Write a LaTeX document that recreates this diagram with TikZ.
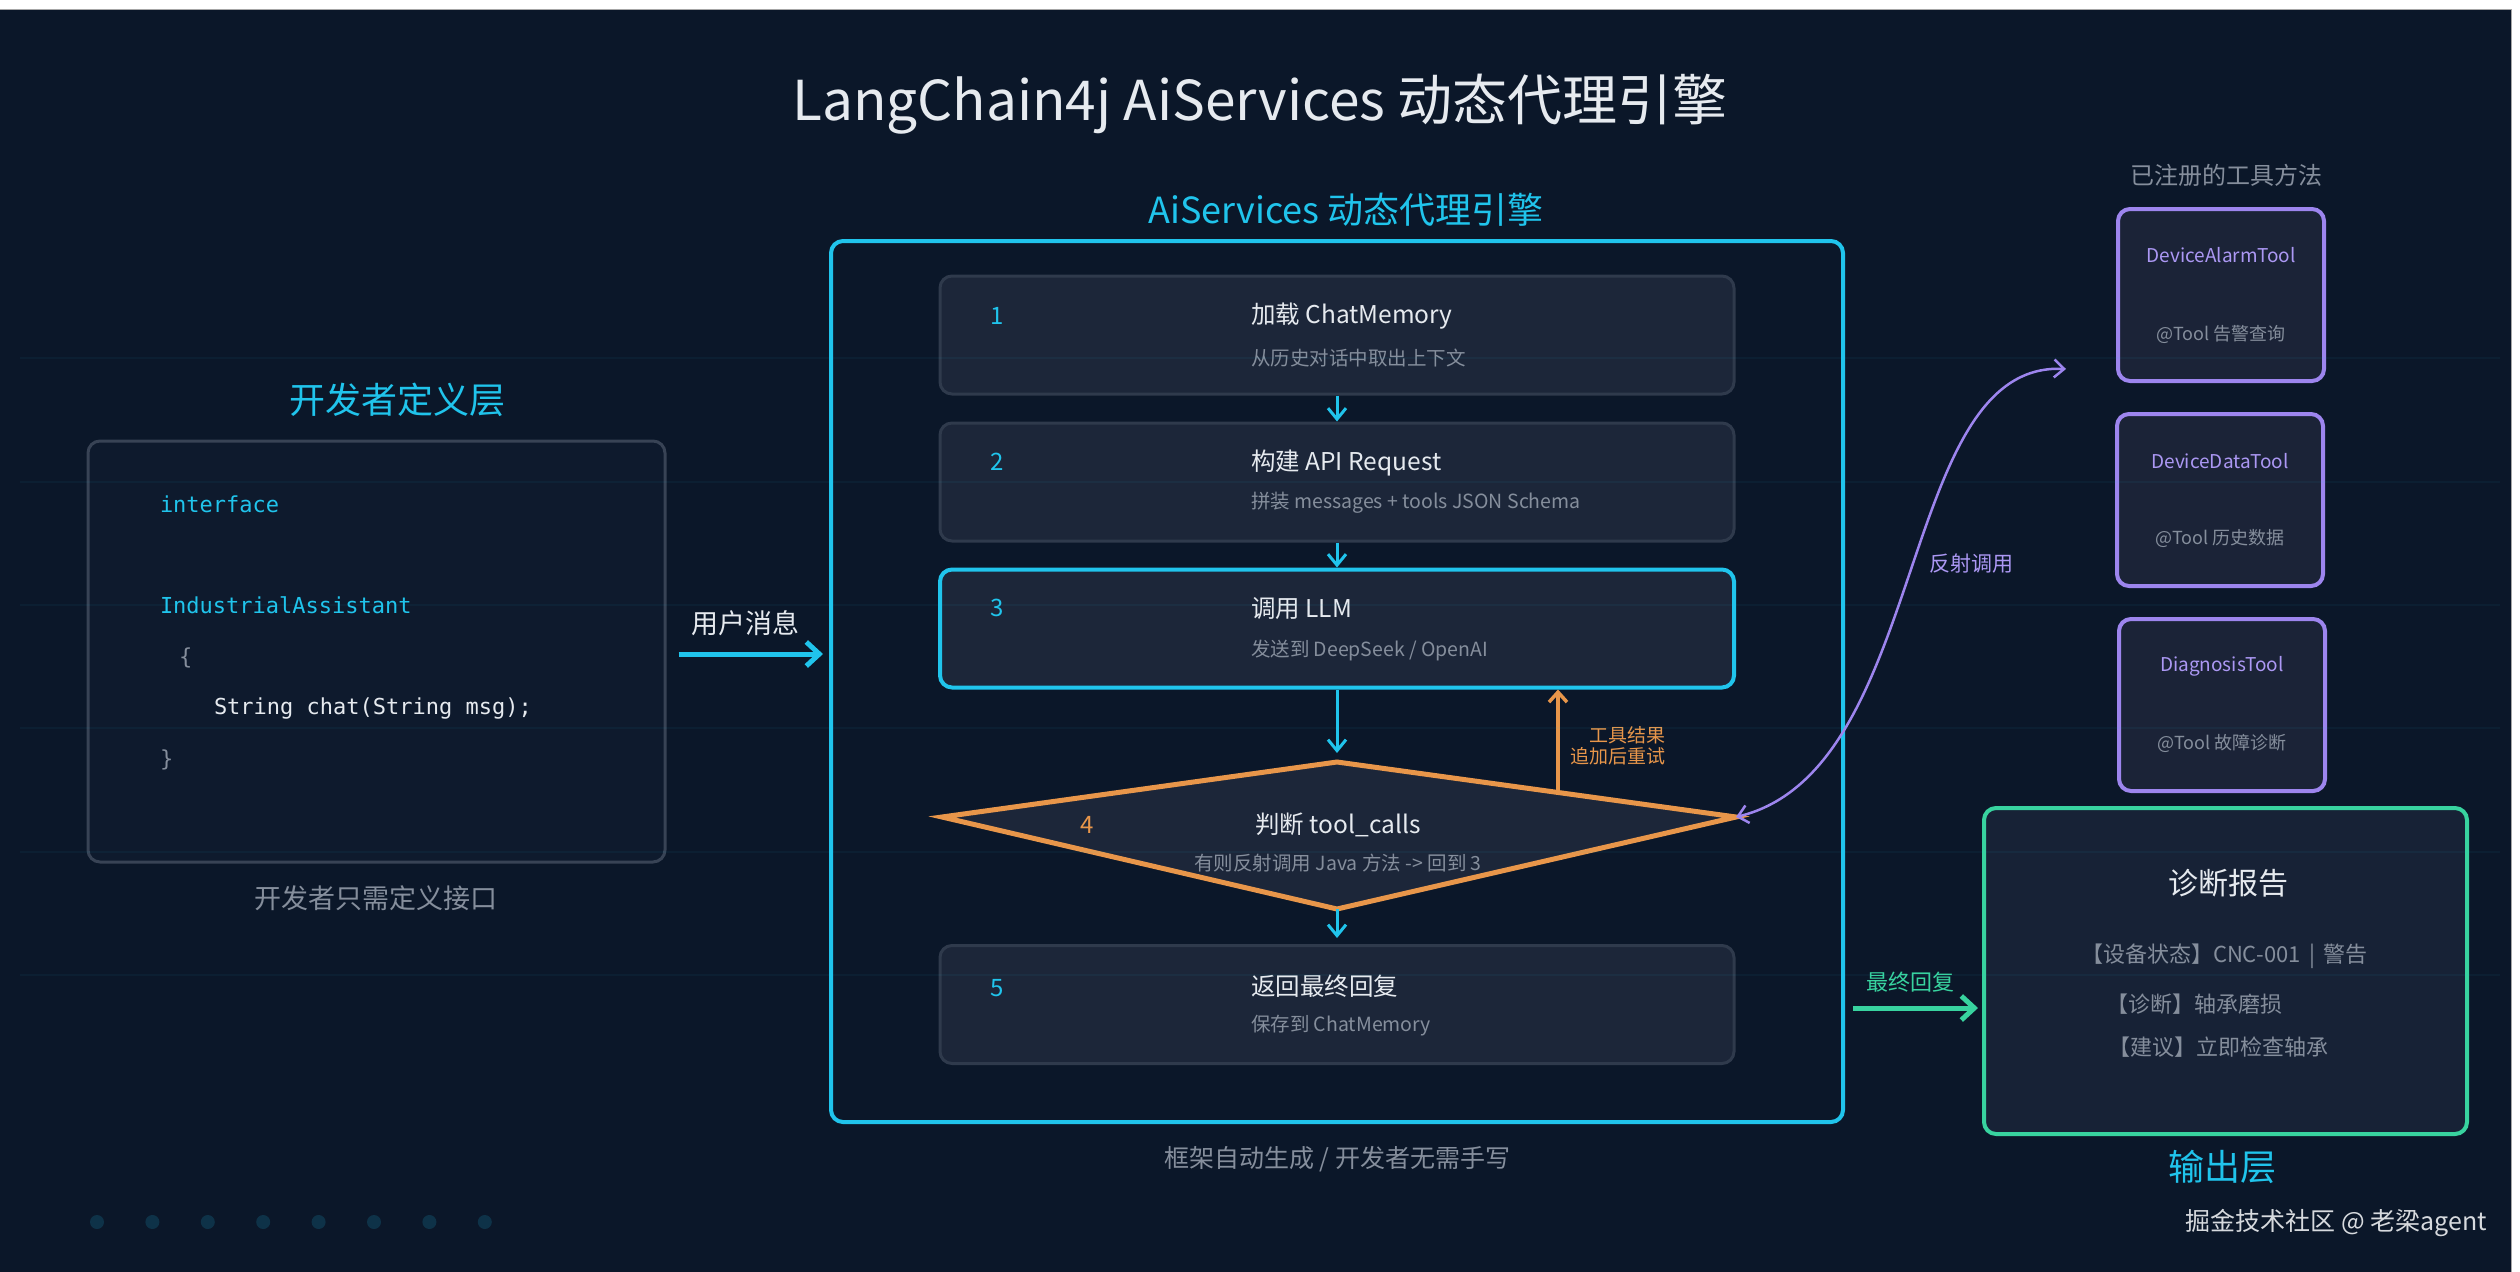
\documentclass[tikz,border=0pt]{standalone}
\usepackage{fontspec}
\setmainfont{Noto Sans CJK SC}
\newfontfamily\codefont{DejaVu Sans Mono}
\usetikzlibrary{arrows.meta}
\definecolor{bg}{HTML}{0B1729}
\definecolor{boxfill}{HTML}{1C2639}
\definecolor{boxline}{HTML}{2F3A4C}
\definecolor{cyanc}{HTML}{20C4EC}
\definecolor{orangec}{HTML}{E8964A}
\definecolor{purplec}{HTML}{9D85EE}
\definecolor{purplet}{HTML}{AC98F4}
\definecolor{greenc}{HTML}{38D39F}
\definecolor{greyt}{HTML}{858E9C}
\definecolor{whitet}{HTML}{E6EAEF}
\definecolor{codeline}{HTML}{384355}
\definecolor{codefill}{HTML}{0E1A2D}
\definecolor{toolfill}{HTML}{1B2337}
\definecolor{outfill}{HTML}{172236}
\newcommand\fsz[1]{\fontsize{#1pt}{#1pt}\selectfont}
\begin{document}
\begin{tikzpicture}[x=1pt,y=-1pt,
  txt/.style={inner sep=0pt, outer sep=0pt},
  stepbox/.style={draw=boxline, fill=boxfill, line width=3pt, rounded corners=12pt,
     minimum width=794pt, minimum height=118pt, inner sep=0pt},
  toolbox/.style={draw=purplec, fill=toolfill, line width=4pt, rounded corners=12pt,
     minimum width=206pt, minimum height=172pt, inner sep=0pt},
  numtxt/.style={txt, text=cyanc, font=\fsz{24}},
  ttltxt/.style={txt, anchor=west, text=whitet, font=\fsz{24.5}},
  subtxt/.style={txt, anchor=west, text=greyt, font=\fsz{19.5}},
  tooltitle/.style={txt, text=purplet, font=\fsz{19}},
  toolsub/.style={txt, text=greyt, font=\fsz{18}},
  codetxt/.style={txt, anchor=west, font=\codefont\fsz{22}},
  carrow/.style={draw=cyanc, line width=3pt, -{Straight Barb[length=11pt,width=18pt,line width=3pt]}},
  faint/.style={draw=cyanc, opacity=0.05, line width=2pt}
]
\useasboundingbox (0,0) rectangle (2520,1272);
% background
\fill[bg] (0,0) rectangle (2520,1272);
\fill[white] (0,0) rectangle (2520,9);
\fill[white] (2511,0) rectangle (2520,1272);
\draw[gray!70, line width=1pt] (0,9) -- (2511,9) -- (2511,1272);

% title
\node[txt, text=whitet, font=\fsz{55}] (title) at (1260,104) {LangChain4j AiServices 动态代理引擎};

% developer layer
\node[txt, text=cyanc, font=\fsz{36}] (devlbl) at (397,400) {开发者定义层};
\node[draw=codeline, fill=codefill, line width=3pt, rounded corners=12pt,
      minimum width=577pt, minimum height=421pt, inner sep=0pt] (code) at (376.5,651.5) {};
\node[codetxt, text=cyanc] (c1) at (160,504) {interface};
\node[codetxt, text=cyanc] (c2) at (160,605) {IndustrialAssistant};
\node[codetxt, text=greyt] (c3) at (179,658) {\{};
\node[codetxt, text=whitet] (c4) at (214,708) {String chat(String msg);};
\node[codetxt, text=greyt] (c5) at (160,760) {\}};
\node[txt, text=greyt, font=\fsz{27}] (devnote) at (376,898) {开发者只需定义接口};

% engine
\node[txt, text=cyanc, font=\fsz{36}] (englbl) at (1346,210) {AiServices 动态代理引擎};
\node[draw=cyanc, line width=4pt, rounded corners=12pt, minimum width=1012pt,
      minimum height=881pt, inner sep=0pt] (engine) at (1337,681.5) {};
\node[txt, text=greyt, font=\fsz{25}] (engnote) at (1337,1159) {框架自动生成 / 开发者无需手写};

% step boxes
\node[stepbox] (box1) at (1337,335) {};
\node[stepbox] (box2) at (1337,482) {};
\node[stepbox, draw=cyanc, line width=4pt] (box3) at (1337,628.5) {};
\node[stepbox] (box5) at (1337,1004.5) {};

\node[numtxt] (n1) at (997,316) {1};
\node[ttltxt] (t1) at (1251,316) {加载 ChatMemory};
\node[subtxt] (s1) at (1251,358) {从历史对话中取出上下文};
\node[numtxt] (n2) at (997,462) {2};
\node[ttltxt] (t2) at (1251,463) {构建 API Request};
\node[subtxt] (s2) at (1251,503) {拼装 messages + tools JSON Schema};
\node[numtxt] (n3) at (997,608) {3};
\node[ttltxt] (t3) at (1251,609) {调用 LLM};
\node[subtxt] (s3) at (1251,650) {发送到 DeepSeek / OpenAI};
\node[numtxt] (n5) at (997,988) {5};
\node[ttltxt] (t5) at (1251,986) {返回最终回复};
\node[subtxt] (s5) at (1251,1026) {保存到 ChatMemory};

% diamond
\coordinate (dL) at (942,817);
\coordinate (dT) at (1337,762);
\coordinate (dR) at (1736,817);
\coordinate (dB) at (1337,909);
\filldraw[fill=boxfill, draw=orangec, line width=5pt, line join=miter] (dL) -- (dT) -- (dR) -- (dB) -- cycle;
\node[numtxt, text=orangec] (n4) at (1087,825) {4};
\node[txt, text=whitet, font=\fsz{24.5}] (t4) at (1338,825) {判断 tool\_calls};
\node[txt, text=greyt, font=\fsz{19.5}] (s4) at (1338,863) {有则反射调用 Java 方法 -> 回到 3};

% flow arrows
\draw[carrow] (box1.south) -- (box2.north);
\draw[carrow] (box2.south) -- (box3.north);
\draw[carrow, shorten >=9pt] (box3.south) -- (dT);
\draw[carrow, shorten >=6pt] (dB) -- (box5.north);

% retry arrow
\coordinate (oe) at (1558,791.5);
\draw[draw=orangec, line width=3.5pt, -{Straight Barb[length=10pt,width=18pt,line width=3.5pt]}] (oe) -- (oe |- box3.south);
\node[txt, anchor=east, text=orangec, font=\fsz{19}] (r1) at (1665,735) {工具结果};
\node[txt, anchor=east, text=orangec, font=\fsz{19}] (r2) at (1665,756) {追加后重试};

% user message arrow
\coordinate (my) at (0,654);
\draw[draw=cyanc, line width=5pt, -{Straight Barb[length=13pt,width=24pt,line width=5pt]},
      shorten <=12pt, shorten >=6pt] (code.east |- my) -- (engine.west |- my);
\node[txt, text=whitet, font=\fsz{27}] (msglbl) at (745,623) {用户消息};

% tools
\node[txt, text=greyt, font=\fsz{24}] (toolhdr) at (2226,175) {已注册的工具方法};
\node[toolbox] (tA) at (2221,295) {};
\node[toolbox] (tB) at (2220,500) {};
\node[toolbox] (tC) at (2222,705) {};
\node[tooltitle] (tA1) at (2221,255) {DeviceAlarmTool};
\node[toolsub] (tA2) at (2221,334) {@Tool 告警查询};
\node[tooltitle] (tB1) at (2220,461) {DeviceDataTool};
\node[toolsub] (tB2) at (2220,538) {@Tool 历史数据};
\node[tooltitle] (tC1) at (2222,666) {DiagnosisTool};
\node[toolsub] (tC2) at (2222,743) {@Tool 故障诊断};

% reflection curve
\coordinate (ptarget) at (2066,369);
\draw[draw=purplec, line width=2.5pt,
      {Straight Barb[length=10pt,width=18pt,line width=2.5pt]}-{Straight Barb[length=10pt,width=18pt,line width=2.5pt]}]
      (dR) .. controls (1930,770) and (1896,361) .. (ptarget);
\node[txt, text=purplet, font=\fsz{21}] (refl) at (1971,564) {反射调用};

% output
\node[draw=greenc, fill=outfill, line width=4pt, rounded corners=12pt, minimum width=483pt,
      minimum height=326pt, inner sep=0pt] (out) at (2225.5,971) {};
\node[txt, text=whitet, font=\fsz{30}] (outttl) at (2228,883) {诊断报告};
\node[txt, anchor=west, text=greyt, font=\fsz{22}] (o1) at (2081,956) {【设备状态】CNC-001 \,|\, 警告};
\node[txt, anchor=west, text=greyt, font=\fsz{22}] (o2) at (2106,1004) {【诊断】轴承磨损};
\node[txt, anchor=west, text=greyt, font=\fsz{22}] (o3) at (2108,1047) {【建议】立即检查轴承};
\node[txt, text=cyanc, font=\fsz{36}] (outlbl) at (2222,1167) {输出层};

\coordinate (fy) at (0,1008);
\draw[draw=greenc, line width=5pt, -{Straight Barb[length=13pt,width=24pt,line width=5pt]},
      shorten <=8pt, shorten >=4pt] (engine.east |- fy) -- (out.west |- fy);
\node[txt, text=greenc, font=\fsz{22}] (finlbl) at (1910,982) {最终回复};

% credit
\node[txt, anchor=east, text=whitet!85!gray, font=\fsz{25}] (credit) at (2487,1223) {掘金技术社区 @ 老梁agent};

% decorative dots
\foreach \i in {0,...,7} \fill[cyanc, opacity=0.16] (97+55.4*\i,1222) circle (7pt);

% faint grid lines
\foreach \yy in {358,482,605,728,852,975} \draw[faint] (20,\yy) -- (2500,\yy);
\end{tikzpicture}
\end{document}
